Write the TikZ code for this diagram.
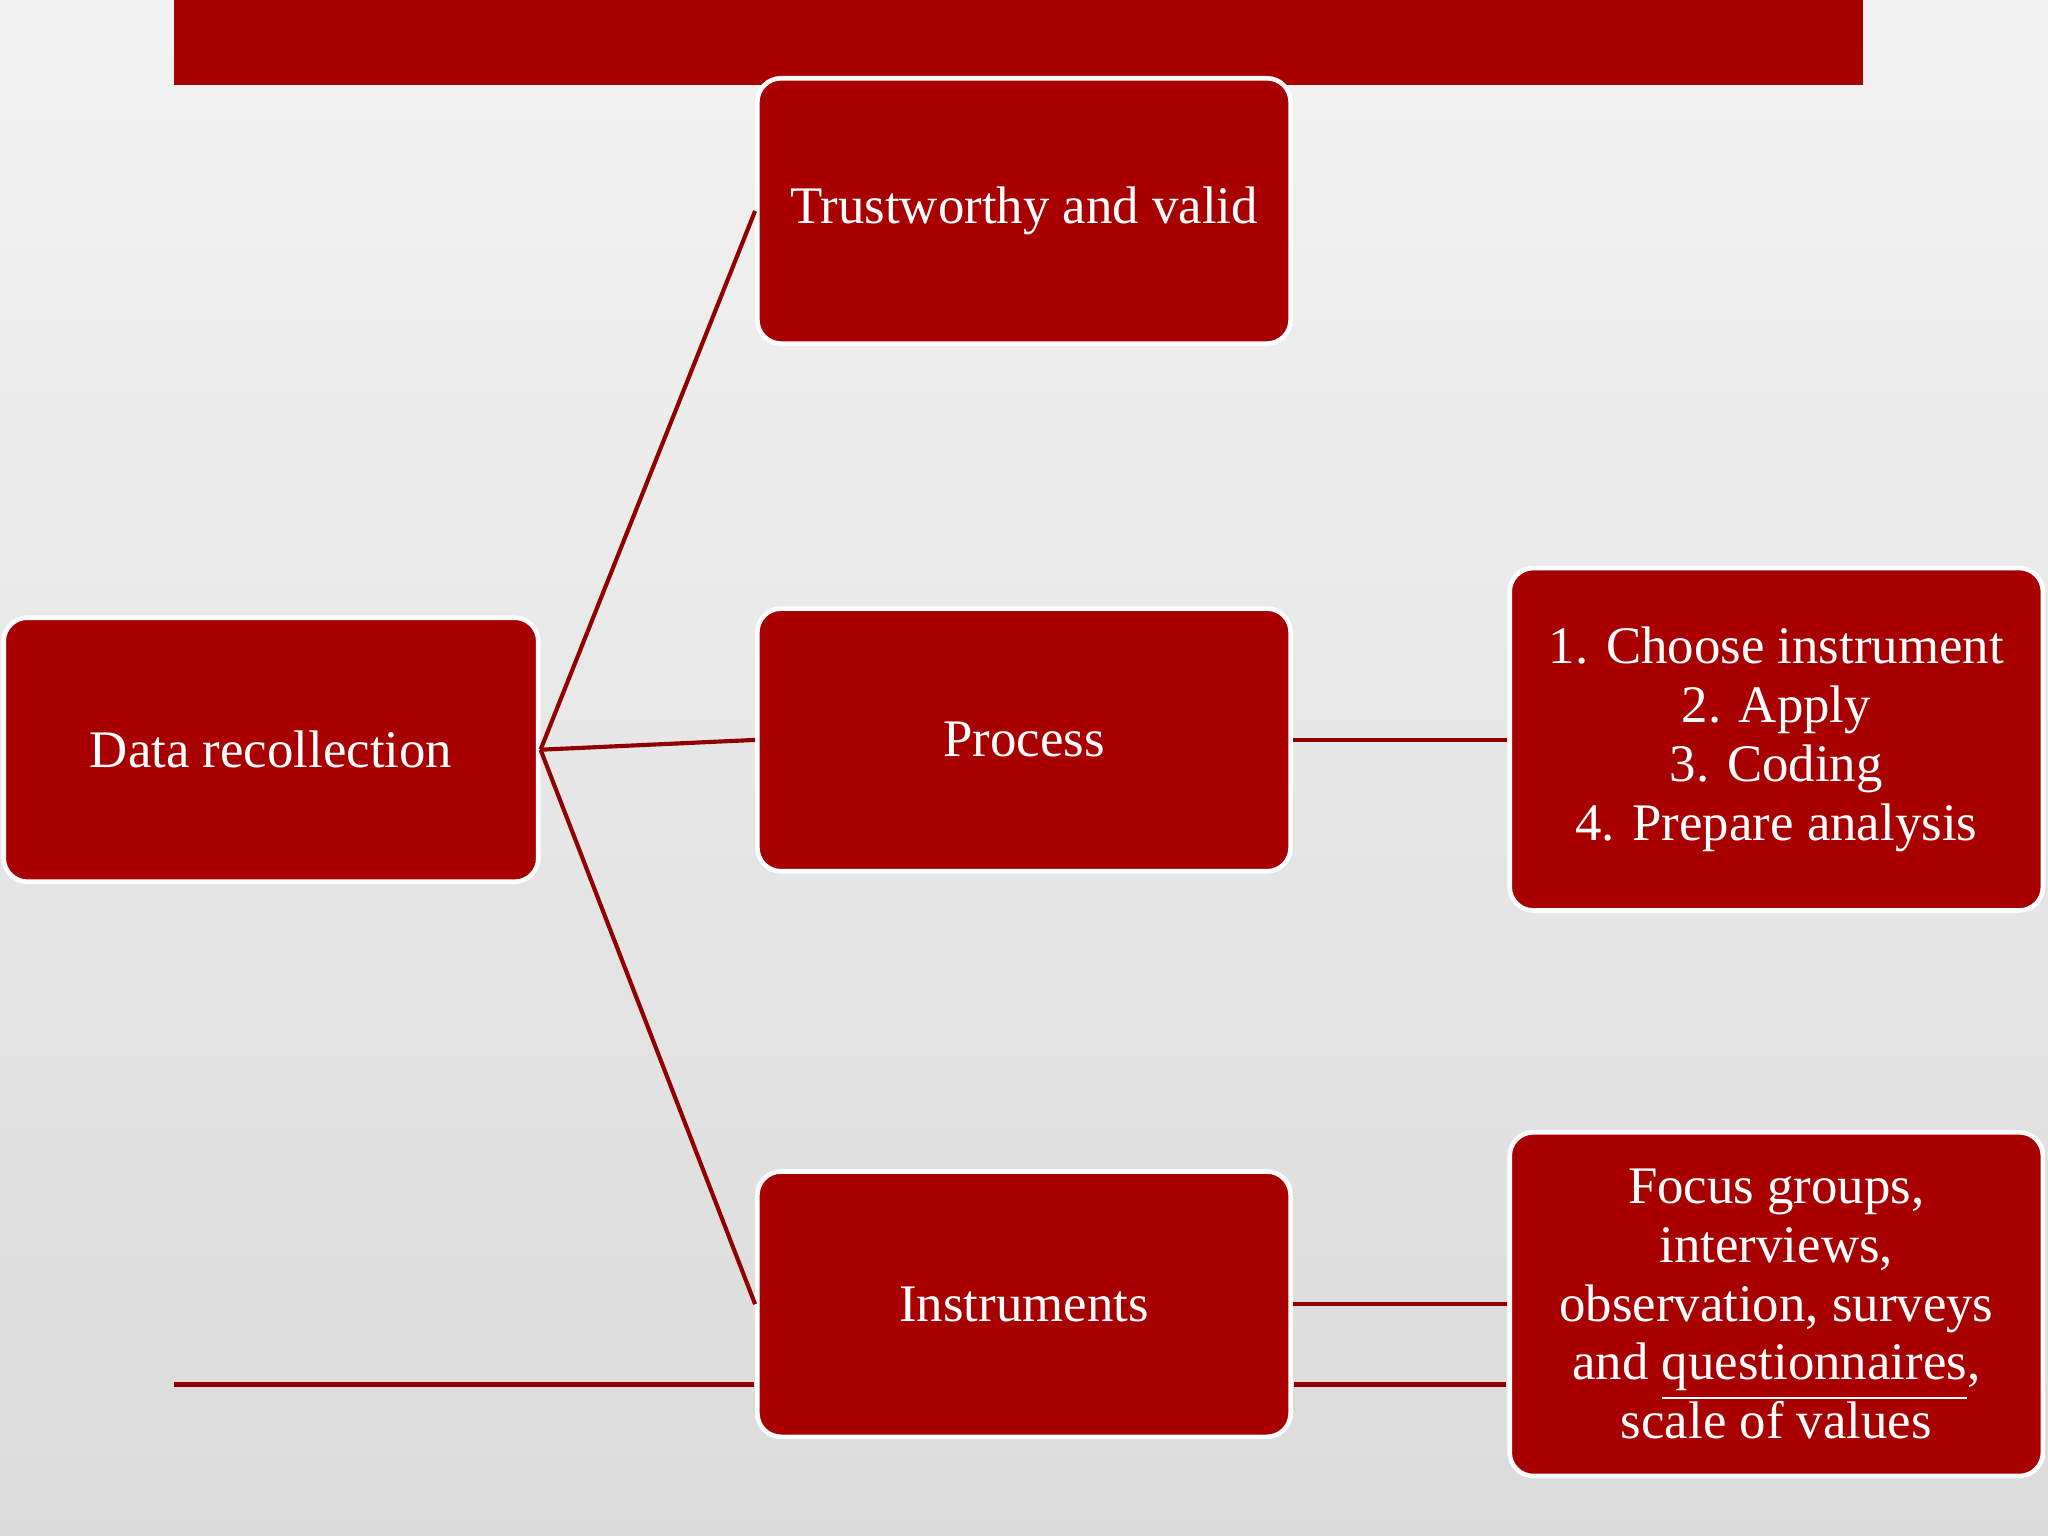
\documentclass[tikz,border=0pt]{standalone}
\usepackage{fontspec}
\setmainfont{Liberation Serif}
\definecolor{dred}{HTML}{A80000}
\begin{document}
\begin{tikzpicture}[x=0.01cm,y=-0.01cm,
 box/.style={draw=white,line width=1pt,fill=dred,rounded corners=0.18cm,text=white,align=center,font=\fontsize{11.5}{12.8}\selectfont,inner sep=0pt},
 link/.style={draw=dred!85!black,line width=0.9pt}]
\shade[top color=black!5,bottom color=black!14] (0,0) rectangle (1568,1176);
\useasboundingbox (0,0) rectangle (1568,1176);
\fill[dred] (133,0) rectangle (1426,65);
\node[box,minimum width=4.08cm,minimum height=2.03cm] (t) at (784,161.5) {Trustworthy and valid};
\node[box,minimum width=4.09cm,minimum height=2.02cm] (d) at (207.5,574) {Data recollection};
\node[box,minimum width=4.08cm,minimum height=2.01cm] (p) at (784,566.5) {Process};
\node[box,minimum width=4.08cm,minimum height=2.03cm] (i) at (784,998.5) {Instruments};
\node[box,minimum width=4.08cm,minimum height=2.62cm] (s) at (1360,566) {1. Choose instrument\\2. Apply\\3. Coding\\4. Prepare analysis};
\node[box,minimum width=4.08cm,minimum height=2.63cm] (f) at (1360,998.5) {Focus groups,\\interviews,\\observation, surveys\\and \underline{questionnaires},\\scale of values};
\coordinate (bl) at (133,1060);
\coordinate (ib) at (577,1060);
\coordinate (ir) at (991,1060);
\coordinate (fl) at (1153,1060);
\draw[link] (d.east) -- (t.west);
\draw[link] (d.east) -- (p.west);
\draw[link] (d.east) -- (i.west);
\draw[link] (p.east) -- (p.east -| s.west);
\draw[link] (i.east) -- (i.east -| f.west);
\draw[link] (bl) -- (ib);
\draw[link] (ir) -- (fl);
\end{tikzpicture}
\end{document}
